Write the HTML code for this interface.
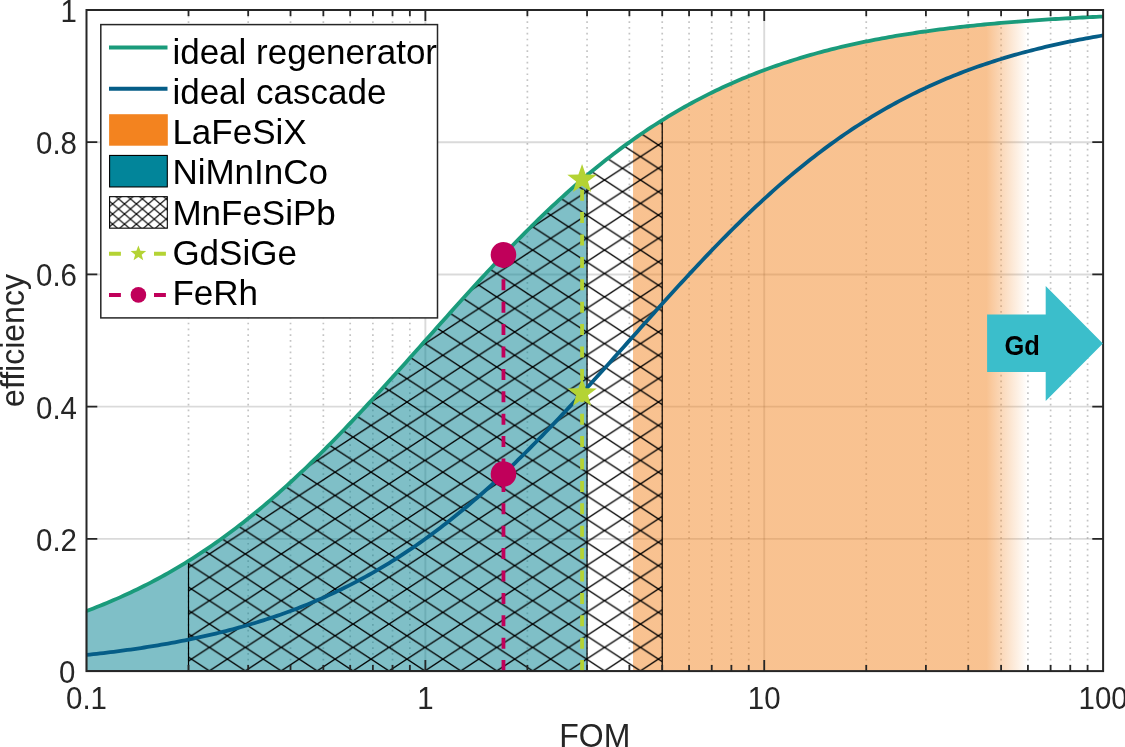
<!DOCTYPE html>
<html><head><meta charset="utf-8"><title>efficiency vs FOM</title>
<style>html,body{margin:0;padding:0;background:#fff;}svg{display:block;}</style>
</head><body>
<svg width="1125" height="747" viewBox="0 0 1125 747">
<defs>
<pattern id="hatch" patternUnits="userSpaceOnUse" x="209.4" y="600.69" width="35.92" height="23.37"><path d="M-17.96,-11.685 L53.88,35.055 M-17.96,35.055 L53.88,-11.685" stroke="#000" stroke-width="1.4" fill="none"/></pattern>
<pattern id="hatchs" patternUnits="userSpaceOnUse" x="112.6" y="203.9" width="11.9" height="10.12"><path d="M-5.95,-5.06 L17.85,15.18 M-5.95,15.18 L17.85,-5.06" stroke="#000" stroke-width="1.2" fill="none"/></pattern>
<linearGradient id="orfade" gradientUnits="userSpaceOnUse" x1="633.0" y1="0" x2="1027.5" y2="0"><stop offset="0" stop-color="#f28522" stop-opacity="0.5"/><stop offset="0.8961" stop-color="#f28522" stop-opacity="0.5"/><stop offset="1" stop-color="#f28522" stop-opacity="0"/></linearGradient>
<clipPath id="axclip"><rect x="86.5" y="10.0" width="1016.5999999999999" height="661.1"/></clipPath>
</defs>
<rect width="1125" height="747" fill="#fff"/>
<line x1="188.51" y1="10.0" x2="188.51" y2="671.1" stroke="#262626" stroke-opacity="0.27" stroke-width="1.7" stroke-dasharray="1.7 4.096" stroke-dashoffset="0.35"/>
<line x1="248.18" y1="10.0" x2="248.18" y2="671.1" stroke="#262626" stroke-opacity="0.27" stroke-width="1.7" stroke-dasharray="1.7 4.096" stroke-dashoffset="0.35"/>
<line x1="290.52" y1="10.0" x2="290.52" y2="671.1" stroke="#262626" stroke-opacity="0.27" stroke-width="1.7" stroke-dasharray="1.7 4.096" stroke-dashoffset="0.35"/>
<line x1="323.36" y1="10.0" x2="323.36" y2="671.1" stroke="#262626" stroke-opacity="0.27" stroke-width="1.7" stroke-dasharray="1.7 4.096" stroke-dashoffset="0.35"/>
<line x1="350.19" y1="10.0" x2="350.19" y2="671.1" stroke="#262626" stroke-opacity="0.27" stroke-width="1.7" stroke-dasharray="1.7 4.096" stroke-dashoffset="0.35"/>
<line x1="372.88" y1="10.0" x2="372.88" y2="671.1" stroke="#262626" stroke-opacity="0.27" stroke-width="1.7" stroke-dasharray="1.7 4.096" stroke-dashoffset="0.35"/>
<line x1="392.53" y1="10.0" x2="392.53" y2="671.1" stroke="#262626" stroke-opacity="0.27" stroke-width="1.7" stroke-dasharray="1.7 4.096" stroke-dashoffset="0.35"/>
<line x1="409.86" y1="10.0" x2="409.86" y2="671.1" stroke="#262626" stroke-opacity="0.27" stroke-width="1.7" stroke-dasharray="1.7 4.096" stroke-dashoffset="0.35"/>
<line x1="527.38" y1="10.0" x2="527.38" y2="671.1" stroke="#262626" stroke-opacity="0.27" stroke-width="1.7" stroke-dasharray="1.7 4.096" stroke-dashoffset="0.35"/>
<line x1="587.05" y1="10.0" x2="587.05" y2="671.1" stroke="#262626" stroke-opacity="0.27" stroke-width="1.7" stroke-dasharray="1.7 4.096" stroke-dashoffset="0.35"/>
<line x1="629.38" y1="10.0" x2="629.38" y2="671.1" stroke="#262626" stroke-opacity="0.27" stroke-width="1.7" stroke-dasharray="1.7 4.096" stroke-dashoffset="0.35"/>
<line x1="662.22" y1="10.0" x2="662.22" y2="671.1" stroke="#262626" stroke-opacity="0.27" stroke-width="1.7" stroke-dasharray="1.7 4.096" stroke-dashoffset="0.35"/>
<line x1="689.06" y1="10.0" x2="689.06" y2="671.1" stroke="#262626" stroke-opacity="0.27" stroke-width="1.7" stroke-dasharray="1.7 4.096" stroke-dashoffset="0.35"/>
<line x1="711.74" y1="10.0" x2="711.74" y2="671.1" stroke="#262626" stroke-opacity="0.27" stroke-width="1.7" stroke-dasharray="1.7 4.096" stroke-dashoffset="0.35"/>
<line x1="731.39" y1="10.0" x2="731.39" y2="671.1" stroke="#262626" stroke-opacity="0.27" stroke-width="1.7" stroke-dasharray="1.7 4.096" stroke-dashoffset="0.35"/>
<line x1="748.73" y1="10.0" x2="748.73" y2="671.1" stroke="#262626" stroke-opacity="0.27" stroke-width="1.7" stroke-dasharray="1.7 4.096" stroke-dashoffset="0.35"/>
<line x1="866.24" y1="10.0" x2="866.24" y2="671.1" stroke="#262626" stroke-opacity="0.27" stroke-width="1.7" stroke-dasharray="1.7 4.096" stroke-dashoffset="0.35"/>
<line x1="925.91" y1="10.0" x2="925.91" y2="671.1" stroke="#262626" stroke-opacity="0.27" stroke-width="1.7" stroke-dasharray="1.7 4.096" stroke-dashoffset="0.35"/>
<line x1="968.25" y1="10.0" x2="968.25" y2="671.1" stroke="#262626" stroke-opacity="0.27" stroke-width="1.7" stroke-dasharray="1.7 4.096" stroke-dashoffset="0.35"/>
<line x1="1001.09" y1="10.0" x2="1001.09" y2="671.1" stroke="#262626" stroke-opacity="0.27" stroke-width="1.7" stroke-dasharray="1.7 4.096" stroke-dashoffset="0.35"/>
<line x1="1027.92" y1="10.0" x2="1027.92" y2="671.1" stroke="#262626" stroke-opacity="0.27" stroke-width="1.7" stroke-dasharray="1.7 4.096" stroke-dashoffset="0.35"/>
<line x1="1050.61" y1="10.0" x2="1050.61" y2="671.1" stroke="#262626" stroke-opacity="0.27" stroke-width="1.7" stroke-dasharray="1.7 4.096" stroke-dashoffset="0.35"/>
<line x1="1070.26" y1="10.0" x2="1070.26" y2="671.1" stroke="#262626" stroke-opacity="0.27" stroke-width="1.7" stroke-dasharray="1.7 4.096" stroke-dashoffset="0.35"/>
<line x1="1087.59" y1="10.0" x2="1087.59" y2="671.1" stroke="#262626" stroke-opacity="0.27" stroke-width="1.7" stroke-dasharray="1.7 4.096" stroke-dashoffset="0.35"/>
<line x1="425.37" y1="10.0" x2="425.37" y2="671.1" stroke="#262626" stroke-opacity="0.17" stroke-width="1.9"/>
<line x1="764.23" y1="10.0" x2="764.23" y2="671.1" stroke="#262626" stroke-opacity="0.17" stroke-width="1.9"/>
<line x1="86.5" y1="538.88" x2="1103.1" y2="538.88" stroke="#262626" stroke-opacity="0.17" stroke-width="1.9"/>
<line x1="86.5" y1="406.66" x2="1103.1" y2="406.66" stroke="#262626" stroke-opacity="0.17" stroke-width="1.9"/>
<line x1="86.5" y1="274.44" x2="1103.1" y2="274.44" stroke="#262626" stroke-opacity="0.17" stroke-width="1.9"/>
<line x1="86.5" y1="142.22" x2="1103.1" y2="142.22" stroke="#262626" stroke-opacity="0.17" stroke-width="1.9"/>
<path d="M86.50,671.10 L86.50,611.00 89.02,610.06 91.53,609.11 94.05,608.14 96.56,607.16 99.08,606.16 101.59,605.16 104.11,604.14 106.62,603.10 109.14,602.05 111.65,600.99 114.17,599.91 116.68,598.81 119.20,597.71 121.71,596.58 124.23,595.45 126.74,594.29 129.26,593.13 131.78,591.94 134.29,590.74 136.81,589.53 139.32,588.30 141.84,587.05 144.35,585.79 146.87,584.51 149.38,583.22 151.90,581.91 154.41,580.58 156.93,579.24 159.44,577.88 161.96,576.50 164.47,575.11 166.99,573.70 169.51,572.27 172.02,570.82 174.54,569.36 177.05,567.88 179.57,566.38 182.08,564.87 184.60,563.34 187.11,561.79 189.63,560.22 192.14,558.63 194.66,557.03 197.17,555.40 199.69,553.76 202.20,552.11 204.72,550.43 207.23,548.73 209.75,547.02 212.27,545.29 214.78,543.54 217.30,541.77 219.81,539.98 222.33,538.18 224.84,536.35 227.36,534.51 229.87,532.65 232.39,530.77 234.90,528.87 237.42,526.95 239.93,525.01 242.45,523.06 244.96,521.09 247.48,519.10 250.00,517.09 252.51,515.06 255.03,513.01 257.54,510.95 260.06,508.86 262.57,506.76 265.09,504.64 267.60,502.50 270.12,500.35 272.63,498.18 275.15,495.98 277.66,493.77 280.18,491.55 282.69,489.30 285.21,487.04 287.72,484.76 290.24,482.47 292.76,480.16 295.27,477.83 297.79,475.48 300.30,473.12 302.82,470.74 305.33,468.35 307.85,465.94 310.36,463.51 312.88,461.07 315.39,458.61 317.91,456.14 320.42,453.65 322.94,451.15 325.45,448.64 327.97,446.11 330.49,443.56 333.00,441.00 335.52,438.43 338.03,435.85 340.55,433.25 343.06,430.65 345.58,428.02 348.09,425.39 350.61,422.75 353.12,420.09 355.64,417.42 358.15,414.75 360.67,412.06 363.18,409.36 365.70,406.66 368.21,403.94 370.73,401.21 373.25,398.48 375.76,395.74 378.28,392.99 380.79,390.23 383.31,387.47 385.82,384.69 388.34,381.92 390.85,379.13 393.37,376.34 395.88,373.55 398.40,370.75 400.91,367.95 403.43,365.14 405.94,362.33 408.46,359.52 410.98,356.70 413.49,353.88 416.01,351.06 418.52,348.24 421.04,345.41 423.55,342.59 426.07,339.76 428.58,336.94 431.10,334.11 433.61,331.29 436.13,328.47 438.64,325.65 441.16,322.83 443.67,320.02 446.19,317.20 448.70,314.40 451.22,311.59 453.74,308.79 456.25,305.99 458.77,303.20 461.28,300.42 463.80,297.64 466.31,294.86 468.83,292.09 471.34,289.33 473.86,286.58 476.37,283.83 478.89,281.10 481.40,278.37 483.92,275.65 486.43,272.94 488.95,270.23 491.47,267.54 493.98,264.86 496.50,262.19 499.01,259.53 501.53,256.88 504.04,254.24 506.56,251.61 509.07,249.00 511.59,246.40 514.10,243.81 516.62,241.23 519.13,238.67 521.65,236.12 524.16,233.58 526.68,231.06 529.19,228.55 531.71,226.06 534.23,223.58 536.74,221.12 539.26,218.67 541.77,216.24 544.29,213.82 546.80,211.42 549.32,209.03 551.83,206.66 554.35,204.31 556.86,201.97 559.38,199.65 561.89,197.35 564.41,195.06 566.92,192.80 569.44,190.54 571.96,188.31 574.47,186.09 576.99,183.89 579.50,181.71 582.02,179.55 584.53,177.40 587.05,175.27 L587.05,671.10 Z" fill="#00808f" fill-opacity="0.5" stroke="#000" stroke-width="1.2"/>
<path d="M633.02,671.10 L633.02,139.63 635.38,137.96 637.74,136.31 640.11,134.68 642.47,133.07 644.83,131.47 647.19,129.88 649.55,128.32 651.92,126.77 654.28,125.23 656.64,123.71 659.00,122.21 661.37,120.72 663.73,119.25 666.09,117.79 668.45,116.35 670.81,114.93 673.18,113.52 675.54,112.12 677.90,110.75 680.26,109.38 682.63,108.04 684.99,106.70 687.35,105.39 689.71,104.08 692.07,102.79 694.44,101.52 696.80,100.26 699.16,99.02 701.52,97.79 703.89,96.58 706.25,95.38 708.61,94.19 710.97,93.02 713.33,91.86 715.70,90.71 718.06,89.58 720.42,88.47 722.78,87.36 725.15,86.27 727.51,85.20 729.87,84.13 732.23,83.08 734.59,82.05 736.96,81.02 739.32,80.01 741.68,79.01 744.04,78.03 746.41,77.05 748.77,76.09 751.13,75.15 753.49,74.21 755.85,73.28 758.22,72.37 760.58,71.47 762.94,70.58 765.30,69.70 767.67,68.84 770.03,67.98 772.39,67.14 774.75,66.31 777.11,65.49 779.48,64.68 781.84,63.88 784.20,63.09 786.56,62.31 788.93,61.54 791.29,60.78 793.65,60.04 796.01,59.30 798.37,58.57 800.74,57.85 803.10,57.15 805.46,56.45 807.82,55.76 810.19,55.08 812.55,54.41 814.91,53.75 817.27,53.10 819.63,52.46 822.00,51.82 824.36,51.20 826.72,50.58 829.08,49.98 831.44,49.38 833.81,48.79 836.17,48.21 838.53,47.63 840.89,47.07 843.26,46.51 845.62,45.96 847.98,45.42 850.34,44.88 852.70,44.36 855.07,43.84 857.43,43.33 859.79,42.82 862.15,42.32 864.52,41.83 866.88,41.35 869.24,40.88 871.60,40.41 873.96,39.94 876.33,39.49 878.69,39.04 881.05,38.60 883.41,38.16 885.78,37.73 888.14,37.31 890.50,36.89 892.86,36.48 895.22,36.08 897.59,35.68 899.95,35.28 902.31,34.90 904.67,34.51 907.04,34.14 909.40,33.77 911.76,33.40 914.12,33.04 916.48,32.69 918.85,32.34 921.21,32.00 923.57,31.66 925.93,31.32 928.30,30.99 930.66,30.67 933.02,30.35 935.38,30.04 937.74,29.73 940.11,29.42 942.47,29.12 944.83,28.83 947.19,28.54 949.56,28.25 951.92,27.97 954.28,27.69 956.64,27.41 959.00,27.14 961.37,26.88 963.73,26.61 966.09,26.36 968.45,26.10 970.82,25.85 973.18,25.61 975.54,25.36 977.90,25.12 980.26,24.89 982.63,24.66 984.99,24.43 987.35,24.20 989.71,23.98 992.08,23.76 994.44,23.55 996.80,23.34 999.16,23.13 1001.52,22.93 1003.89,22.72 1006.25,22.52 1008.61,22.33 1010.97,22.14 1013.34,21.95 1015.70,21.76 1018.06,21.58 1020.42,21.39 1022.78,21.22 1025.15,21.04 1027.51,20.87 1029.87,20.70 1032.23,20.53 1034.60,20.36 1036.96,20.20 1039.32,20.04 1041.68,19.88 1044.04,19.73 1046.41,19.58 1048.77,19.43 1051.13,19.28 1053.49,19.13 1055.86,18.99 1058.22,18.85 1060.58,18.71 1062.94,18.57 1065.30,18.44 1067.67,18.31 1070.03,18.17 1072.39,18.05 1074.75,17.92 1077.12,17.79 1079.48,17.67 1081.84,17.55 1084.20,17.43 1086.56,17.32 1088.93,17.20 1091.29,17.09 1093.65,16.98 1096.01,16.87 1098.38,16.76 1100.74,16.65 1103.10,16.55 L1103.10,671.10 Z" fill="url(#orfade)"/>
<path d="M188.51,671.10 L188.51,560.92 190.89,559.42 193.27,557.91 195.65,556.39 198.03,554.85 200.41,553.29 202.79,551.71 205.17,550.12 207.55,548.52 209.93,546.89 212.31,545.25 214.69,543.60 217.07,541.93 219.46,540.24 221.84,538.53 224.22,536.81 226.60,535.07 228.98,533.31 231.36,531.54 233.74,529.75 236.12,527.94 238.50,526.12 240.88,524.28 243.26,522.43 245.64,520.55 248.02,518.67 250.40,516.76 252.78,514.84 255.16,512.90 257.54,510.95 259.92,508.97 262.30,506.99 264.68,504.98 267.06,502.96 269.45,500.93 271.83,498.87 274.21,496.81 276.59,494.72 278.97,492.62 281.35,490.51 283.73,488.38 286.11,486.23 288.49,484.07 290.87,481.89 293.25,479.70 295.63,477.49 298.01,475.27 300.39,473.03 302.77,470.78 305.15,468.52 307.53,466.24 309.91,463.94 312.29,461.64 314.67,459.31 317.05,456.98 319.44,454.63 321.82,452.27 324.20,449.90 326.58,447.51 328.96,445.11 331.34,442.70 333.72,440.27 336.10,437.84 338.48,435.39 340.86,432.93 343.24,430.46 345.62,427.98 348.00,425.49 350.38,422.99 352.76,420.47 355.14,417.95 357.52,415.42 359.90,412.88 362.28,410.33 364.66,407.77 367.04,405.20 369.43,402.63 371.81,400.05 374.19,397.45 376.57,394.86 378.95,392.25 381.33,389.64 383.71,387.02 386.09,384.40 388.47,381.77 390.85,379.14 393.23,376.50 395.61,373.85 397.99,371.21 400.37,368.55 402.75,365.90 405.13,363.24 407.51,360.58 409.89,357.91 412.27,355.24 414.65,352.57 417.03,349.90 419.42,347.23 421.80,344.56 424.18,341.89 426.56,339.21 428.94,336.54 431.32,333.87 433.70,331.20 436.08,328.53 438.46,325.86 440.84,323.19 443.22,320.52 445.60,317.86 447.98,315.20 450.36,312.55 452.74,309.89 455.12,307.25 457.50,304.60 459.88,301.96 462.26,299.33 464.64,296.70 467.03,294.08 469.41,291.46 471.79,288.85 474.17,286.24 476.55,283.65 478.93,281.05 481.31,278.47 483.69,275.90 486.07,273.33 488.45,270.77 490.83,268.22 493.21,265.68 495.59,263.15 497.97,260.63 500.35,258.11 502.73,255.61 505.11,253.12 507.49,250.64 509.87,248.17 512.25,245.71 514.63,243.26 517.02,240.83 519.40,238.40 521.78,235.99 524.16,233.59 526.54,231.20 528.92,228.83 531.30,226.47 533.68,224.12 536.06,221.79 538.44,219.46 540.82,217.16 543.20,214.86 545.58,212.58 547.96,210.32 550.34,208.07 552.72,205.83 555.10,203.61 557.48,201.40 559.86,199.21 562.24,197.03 564.62,194.87 567.01,192.72 569.39,190.59 571.77,188.48 574.15,186.38 576.53,184.29 578.91,182.23 581.29,180.17 583.67,178.14 586.05,176.12 588.43,174.11 590.81,172.13 593.19,170.15 595.57,168.20 597.95,166.26 600.33,164.34 602.71,162.43 605.09,160.55 607.47,158.67 609.85,156.82 612.23,154.98 614.61,153.16 617.00,151.35 619.38,149.56 621.76,147.79 624.14,146.03 626.52,144.29 628.90,142.57 631.28,140.86 633.66,139.17 636.04,137.50 638.42,135.85 640.80,134.21 643.18,132.58 645.56,130.98 647.94,129.39 650.32,127.81 652.70,126.25 655.08,124.71 657.46,123.19 659.84,121.68 662.22,120.18 L662.22,671.10 Z" fill="url(#hatch)" stroke="#000" stroke-width="1.2"/>
<polyline points="86.50,611.00 89.90,609.73 93.30,608.43 96.70,607.10 100.10,605.76 103.50,604.38 106.90,602.98 110.30,601.56 113.70,600.11 117.10,598.63 120.50,597.13 123.90,595.60 127.30,594.04 130.70,592.45 134.10,590.84 137.50,589.19 140.90,587.52 144.30,585.82 147.70,584.09 151.10,582.33 154.50,580.54 157.90,578.72 161.30,576.86 164.70,574.98 168.10,573.07 171.50,571.12 174.90,569.15 178.30,567.14 181.70,565.10 185.10,563.03 188.50,560.92 191.90,558.78 195.30,556.61 198.70,554.41 202.10,552.17 205.50,549.90 208.90,547.60 212.30,545.26 215.70,542.89 219.10,540.49 222.50,538.05 225.90,535.58 229.30,533.07 232.70,530.53 236.10,527.96 239.50,525.35 242.90,522.71 246.30,520.03 249.70,517.32 253.10,514.58 256.50,511.80 259.90,508.99 263.30,506.15 266.70,503.27 270.10,500.36 273.50,497.42 276.90,494.45 280.30,491.44 283.70,488.40 287.10,485.33 290.50,482.23 293.90,479.10 297.30,475.94 300.70,472.74 304.10,469.52 307.50,466.27 310.90,462.99 314.30,459.68 317.70,456.34 321.10,452.98 324.50,449.59 327.90,446.18 331.30,442.73 334.70,439.27 338.10,435.78 341.50,432.27 344.90,428.73 348.30,425.17 351.70,421.60 355.10,418.00 358.50,414.38 361.90,410.74 365.30,407.09 368.70,403.41 372.10,399.73 375.50,396.02 378.90,392.30 382.30,388.57 385.70,384.83 389.10,381.07 392.50,377.31 395.90,373.53 399.30,369.75 402.70,365.96 406.10,362.16 409.50,358.35 412.90,354.54 416.30,350.73 419.70,346.91 423.10,343.10 426.50,339.28 429.90,335.46 433.30,331.64 436.70,327.83 440.10,324.02 443.50,320.21 446.90,316.41 450.30,312.62 453.70,308.83 457.10,305.05 460.50,301.28 463.90,297.52 467.30,293.77 470.70,290.04 474.10,286.32 477.50,282.61 480.90,278.91 484.30,275.24 487.70,271.58 491.10,267.93 494.50,264.31 497.90,260.70 501.30,257.12 504.70,253.55 508.10,250.01 511.50,246.49 514.90,242.99 518.30,239.52 521.70,236.07 525.10,232.64 528.50,229.25 531.90,225.87 535.30,222.53 538.70,219.21 542.10,215.92 545.50,212.66 548.90,209.43 552.30,206.22 555.70,203.05 559.10,199.91 562.50,196.80 565.90,193.72 569.30,190.67 572.70,187.65 576.10,184.67 579.50,181.71 582.90,178.79 586.30,175.91 589.70,173.05 593.10,170.23 596.50,167.44 599.90,164.69 603.30,161.97 606.70,159.28 610.10,156.63 613.50,154.01 616.90,151.42 620.30,148.87 623.70,146.35 627.10,143.87 630.50,141.42 633.90,139.00 637.30,136.62 640.70,134.27 644.10,131.96 647.50,129.68 650.90,127.43 654.30,125.22 657.70,123.04 661.10,120.89 664.50,118.77 667.90,116.69 671.30,114.64 674.70,112.62 678.10,110.63 681.50,108.68 684.90,106.75 688.30,104.86 691.70,103.00 695.10,101.17 698.50,99.37 701.90,97.60 705.30,95.86 708.70,94.14 712.10,92.46 715.50,90.81 718.90,89.18 722.30,87.59 725.70,86.02 729.10,84.48 732.50,82.97 735.90,81.48 739.30,80.02 742.70,78.59 746.10,77.18 749.50,75.80 752.90,74.44 756.30,73.11 759.70,71.80 763.10,70.52 766.50,69.26 769.90,68.03 773.30,66.82 776.70,65.63 780.10,64.46 783.50,63.32 786.90,62.20 790.30,61.10 793.70,60.02 797.10,58.96 800.50,57.92 803.90,56.91 807.30,55.91 810.70,54.93 814.10,53.98 817.50,53.04 820.90,52.12 824.30,51.21 827.70,50.33 831.10,49.46 834.50,48.62 837.90,47.78 841.30,46.97 844.70,46.17 848.10,45.39 851.50,44.62 854.90,43.87 858.30,43.14 861.70,42.42 865.10,41.71 868.50,41.02 871.90,40.35 875.30,39.69 878.70,39.04 882.10,38.40 885.50,37.78 888.90,37.17 892.30,36.58 895.70,35.99 899.10,35.42 902.50,34.87 905.90,34.32 909.30,33.78 912.70,33.26 916.10,32.75 919.50,32.24 922.90,31.75 926.30,31.27 929.70,30.80 933.10,30.34 936.50,29.89 939.90,29.45 943.30,29.02 946.70,28.60 950.10,28.18 953.50,27.78 956.90,27.38 960.30,27.00 963.70,26.62 967.10,26.25 970.50,25.89 973.90,25.53 977.30,25.18 980.70,24.85 984.10,24.51 987.50,24.19 990.90,23.87 994.30,23.56 997.70,23.26 1001.10,22.96 1004.50,22.67 1007.90,22.39 1011.30,22.11 1014.70,21.84 1018.10,21.57 1021.50,21.31 1024.90,21.06 1028.30,20.81 1031.70,20.57 1035.10,20.33 1038.50,20.10 1041.90,19.87 1045.30,19.65 1048.70,19.43 1052.10,19.22 1055.50,19.01 1058.90,18.81 1062.30,18.61 1065.70,18.42 1069.10,18.23 1072.50,18.04 1075.90,17.86 1079.30,17.68 1082.70,17.51 1086.10,17.34 1089.50,17.17 1092.90,17.01 1096.30,16.85 1099.70,16.70 1103.10,16.55" fill="none" stroke="#1a9b7b" stroke-width="3.8"/>
<polyline points="86.50,654.98 89.90,654.61 93.30,654.23 96.70,653.85 100.10,653.46 103.50,653.06 106.90,652.65 110.30,652.23 113.70,651.80 117.10,651.36 120.50,650.91 123.90,650.46 127.30,649.99 130.70,649.51 134.10,649.02 137.50,648.53 140.90,648.02 144.30,647.50 147.70,646.96 151.10,646.42 154.50,645.87 157.90,645.30 161.30,644.72 164.70,644.13 168.10,643.53 171.50,642.91 174.90,642.28 178.30,641.63 181.70,640.98 185.10,640.31 188.50,639.62 191.90,638.92 195.30,638.21 198.70,637.48 202.10,636.73 205.50,635.97 208.90,635.19 212.30,634.40 215.70,633.59 219.10,632.77 222.50,631.92 225.90,631.06 229.30,630.19 232.70,629.29 236.10,628.38 239.50,627.44 242.90,626.49 246.30,625.52 249.70,624.53 253.10,623.52 256.50,622.49 259.90,621.44 263.30,620.37 266.70,619.28 270.10,618.16 273.50,617.03 276.90,615.87 280.30,614.69 283.70,613.48 287.10,612.26 290.50,611.01 293.90,609.73 297.30,608.43 300.70,607.11 304.10,605.76 307.50,604.39 310.90,602.99 314.30,601.57 317.70,600.12 321.10,598.64 324.50,597.14 327.90,595.60 331.30,594.05 334.70,592.46 338.10,590.84 341.50,589.20 344.90,587.53 348.30,585.83 351.70,584.10 355.10,582.34 358.50,580.55 361.90,578.73 365.30,576.87 368.70,574.99 372.10,573.08 375.50,571.13 378.90,569.16 382.30,567.15 385.70,565.11 389.10,563.04 392.50,560.93 395.90,558.80 399.30,556.63 402.70,554.42 406.10,552.19 409.50,549.92 412.90,547.61 416.30,545.28 419.70,542.91 423.10,540.50 426.50,538.06 429.90,535.59 433.30,533.09 436.70,530.55 440.10,527.97 443.50,525.36 446.90,522.72 450.30,520.05 453.70,517.34 457.10,514.59 460.50,511.82 463.90,509.01 467.30,506.17 470.70,503.29 474.10,500.38 477.50,497.44 480.90,494.46 484.30,491.46 487.70,488.42 491.10,485.35 494.50,482.25 497.90,479.12 501.30,475.95 504.70,472.76 508.10,469.54 511.50,466.29 514.90,463.01 518.30,459.70 521.70,456.36 525.10,453.00 528.50,449.61 531.90,446.19 535.30,442.75 538.70,439.29 542.10,435.80 545.50,432.29 548.90,428.75 552.30,425.19 555.70,421.61 559.10,418.02 562.50,414.40 565.90,410.76 569.30,407.11 572.70,403.43 576.10,399.75 579.50,396.04 582.90,392.32 586.30,388.59 589.70,384.85 593.10,381.09 596.50,377.33 599.90,373.55 603.30,369.77 606.70,365.98 610.10,362.18 613.50,358.37 616.90,354.56 620.30,350.75 623.70,346.93 627.10,343.12 630.50,339.30 633.90,335.48 637.30,331.66 640.70,327.85 644.10,324.04 647.50,320.23 650.90,316.43 654.30,312.64 657.70,308.85 661.10,305.07 664.50,301.30 667.90,297.54 671.30,293.79 674.70,290.06 678.10,286.34 681.50,282.63 684.90,278.93 688.30,275.26 691.70,271.59 695.10,267.95 698.50,264.33 701.90,260.72 705.30,257.14 708.70,253.57 712.10,250.03 715.50,246.51 718.90,243.01 722.30,239.54 725.70,236.09 729.10,232.66 732.50,229.26 735.90,225.89 739.30,222.55 742.70,219.23 746.10,215.94 749.50,212.68 752.90,209.44 756.30,206.24 759.70,203.07 763.10,199.93 766.50,196.81 769.90,193.73 773.30,190.68 776.70,187.67 780.10,184.68 783.50,181.73 786.90,178.81 790.30,175.92 793.70,173.07 797.10,170.24 800.50,167.46 803.90,164.70 807.30,161.98 810.70,159.29 814.10,156.64 817.50,154.02 820.90,151.44 824.30,148.88 827.70,146.37 831.10,143.88 834.50,141.43 837.90,139.02 841.30,136.64 844.70,134.29 848.10,131.97 851.50,129.69 854.90,127.44 858.30,125.23 861.70,123.05 865.10,120.90 868.50,118.78 871.90,116.70 875.30,114.65 878.70,112.63 882.10,110.64 885.50,108.69 888.90,106.76 892.30,104.87 895.70,103.01 899.10,101.18 902.50,99.38 905.90,97.61 909.30,95.86 912.70,94.15 916.10,92.47 919.50,90.82 922.90,89.19 926.30,87.60 929.70,86.03 933.10,84.49 936.50,82.97 939.90,81.49 943.30,80.03 946.70,78.59 950.10,77.19 953.50,75.81 956.90,74.45 960.30,73.12 963.70,71.81 967.10,70.53 970.50,69.27 973.90,68.04 977.30,66.82 980.70,65.64 984.10,64.47 987.50,63.33 990.90,62.20 994.30,61.10 997.70,60.03 1001.10,58.97 1004.50,57.93 1007.90,56.91 1011.30,55.92 1014.70,54.94 1018.10,53.98 1021.50,53.04 1024.90,52.12 1028.30,51.22 1031.70,50.34 1035.10,49.47 1038.50,48.62 1041.90,47.79 1045.30,46.97 1048.70,46.18 1052.10,45.39 1055.50,44.63 1058.90,43.88 1062.30,43.14 1065.70,42.42 1069.10,41.72 1072.50,41.03 1075.90,40.35 1079.30,39.69 1082.70,39.04 1086.10,38.41 1089.50,37.79 1092.90,37.18 1096.30,36.58 1099.70,36.00 1103.10,35.43" fill="none" stroke="#055d87" stroke-width="3.8"/>
<line x1="503.46" y1="671.1" x2="503.46" y2="254.85" stroke="#c0005a" stroke-width="3.8" stroke-dasharray="11 11.4"/>
<circle cx="503.46" cy="254.85" r="12.8" fill="#c0005a"/>
<circle cx="503.46" cy="473.93" r="12.8" fill="#c0005a"/>
<line x1="582.06" y1="671.1" x2="582.06" y2="179.51" stroke="#b4d334" stroke-width="3.8" stroke-dasharray="11 11.4"/>
<polygon points="582.06,164.01 585.70,174.50 596.80,174.72 587.95,181.43 591.17,192.05 582.06,185.71 572.95,192.05 576.16,181.43 567.32,174.72 578.41,174.50" fill="#b4d334"/>
<polygon points="582.06,377.75 585.70,388.23 596.80,388.46 587.95,395.16 591.17,405.79 582.06,399.45 572.95,405.79 576.16,395.16 567.32,388.46 578.41,388.23" fill="#b4d334"/>
<rect x="86.5" y="10.0" width="1016.5999999999999" height="661.1" fill="none" stroke="#262626" stroke-width="2"/>
<path d="M188.51,671.1v-6M188.51,10.0v6M248.18,671.1v-6M248.18,10.0v6M290.52,671.1v-6M290.52,10.0v6M323.36,671.1v-6M323.36,10.0v6M350.19,671.1v-6M350.19,10.0v6M372.88,671.1v-6M372.88,10.0v6M392.53,671.1v-6M392.53,10.0v6M409.86,671.1v-6M409.86,10.0v6M425.37,671.1v-11M425.37,10.0v11M527.38,671.1v-6M527.38,10.0v6M587.05,671.1v-6M587.05,10.0v6M629.38,671.1v-6M629.38,10.0v6M662.22,671.1v-6M662.22,10.0v6M689.06,671.1v-6M689.06,10.0v6M711.74,671.1v-6M711.74,10.0v6M731.39,671.1v-6M731.39,10.0v6M748.73,671.1v-6M748.73,10.0v6M764.23,671.1v-11M764.23,10.0v11M866.24,671.1v-6M866.24,10.0v6M925.91,671.1v-6M925.91,10.0v6M968.25,671.1v-6M968.25,10.0v6M1001.09,671.1v-6M1001.09,10.0v6M1027.92,671.1v-6M1027.92,10.0v6M1050.61,671.1v-6M1050.61,10.0v6M1070.26,671.1v-6M1070.26,10.0v6M1087.59,671.1v-6M1087.59,10.0v6M86.5,538.88h10.8M1103.1,538.88h-10.8M86.5,406.66h10.8M1103.1,406.66h-10.8M86.5,274.44h10.8M1103.1,274.44h-10.8M86.5,142.22h10.8M1103.1,142.22h-10.8" stroke="#262626" stroke-width="1.8" fill="none"/>
<text transform="translate(75.5,683.05) scale(0.95,1)" font-family="Liberation Sans, sans-serif" font-size="31" fill="#262626" text-anchor="end">0</text>
<text transform="translate(77,550.83) scale(0.95,1)" font-family="Liberation Sans, sans-serif" font-size="31" fill="#262626" text-anchor="end">0.2</text>
<text transform="translate(77,418.61) scale(0.95,1)" font-family="Liberation Sans, sans-serif" font-size="31" fill="#262626" text-anchor="end">0.4</text>
<text transform="translate(77,286.39) scale(0.95,1)" font-family="Liberation Sans, sans-serif" font-size="31" fill="#262626" text-anchor="end">0.6</text>
<text transform="translate(77,154.17) scale(0.95,1)" font-family="Liberation Sans, sans-serif" font-size="31" fill="#262626" text-anchor="end">0.8</text>
<text transform="translate(77,21.95) scale(0.95,1)" font-family="Liberation Sans, sans-serif" font-size="31" fill="#262626" text-anchor="end">1</text>
<text transform="translate(86.50,708.6) scale(0.95,1)" font-family="Liberation Sans, sans-serif" font-size="31" fill="#262626" text-anchor="middle">0.1</text>
<text transform="translate(425.37,708.6) scale(0.95,1)" font-family="Liberation Sans, sans-serif" font-size="31" fill="#262626" text-anchor="middle">1</text>
<text transform="translate(764.23,708.6) scale(0.95,1)" font-family="Liberation Sans, sans-serif" font-size="31" fill="#262626" text-anchor="middle">10</text>
<text transform="translate(1103.10,708.6) scale(0.95,1)" font-family="Liberation Sans, sans-serif" font-size="31" fill="#262626" text-anchor="middle">100</text>
<text transform="translate(594.80,747.2) scale(1,1.065)" font-family="Liberation Sans, sans-serif" font-size="32" fill="#262626" text-anchor="middle">FOM</text>
<text transform="translate(23.9,340.5) rotate(-90) scale(1,1.02)" font-family="Liberation Sans, sans-serif" font-size="32" fill="#262626" text-anchor="middle">efficiency</text>
<rect x="100.8" y="24.6" width="336.7" height="293.3" fill="#fff" stroke="#262626" stroke-width="1.5"/>
<line x1="109" y1="47.5" x2="167.5" y2="47.5" stroke="#1a9b7b" stroke-width="4"/>
<line x1="109" y1="88.72999999999999" x2="167.5" y2="88.72999999999999" stroke="#055d87" stroke-width="4"/>
<rect x="109.1" y="114.21" width="58.7" height="31.5" fill="#f3831f"/>
<rect x="109.6" y="155.44" width="57.7" height="31.5" fill="#02859a" stroke="#000" stroke-width="1.1"/>
<rect x="109.6" y="196.67" width="57.7" height="31.5" fill="url(#hatchs)" stroke="#000" stroke-width="1.1"/>
<path d="M109,253.64999999999998h11.9M154,253.64999999999998h11.9" stroke="#b4d334" stroke-width="4"/>
<polygon points="138.40,245.45 140.42,250.86 146.20,251.12 141.68,254.71 143.22,260.28 138.40,257.09 133.58,260.28 135.12,254.71 130.60,251.12 136.38,250.86" fill="#b4d334"/>
<path d="M109,294.88h11.9M154,294.88h11.9" stroke="#c0005a" stroke-width="4"/>
<circle cx="138.4" cy="294.88" r="7.8" fill="#c0005a"/>
<text transform="translate(172.4,63.80)" font-family="Liberation Sans, sans-serif" font-size="35" fill="#000">ideal regenerator</text>
<text transform="translate(172.4,104.00)" font-family="Liberation Sans, sans-serif" font-size="35" fill="#000">ideal cascade</text>
<text transform="translate(172.4,144.20)" font-family="Liberation Sans, sans-serif" font-size="35" fill="#000">LaFeSiX</text>
<text transform="translate(172.4,184.40)" font-family="Liberation Sans, sans-serif" font-size="35" fill="#000">NiMnInCo</text>
<text transform="translate(172.4,224.60)" font-family="Liberation Sans, sans-serif" font-size="35" fill="#000">MnFeSiPb</text>
<text transform="translate(172.4,264.80)" font-family="Liberation Sans, sans-serif" font-size="35" fill="#000">GdSiGe</text>
<text transform="translate(172.4,305.00)" font-family="Liberation Sans, sans-serif" font-size="35" fill="#000">FeRh</text>
<polygon points="987.1,314.6 1045.7,314.6 1045.7,286.1 1102.9,343.5 1045.7,400.9 1045.7,372 987.1,372" fill="#3bbecb"/>
<text transform="translate(1004.4,354.8) scale(0.91,1)" font-family="Liberation Sans, sans-serif" font-weight="bold" font-size="28" fill="#000">Gd</text>
</svg>
</body></html>
